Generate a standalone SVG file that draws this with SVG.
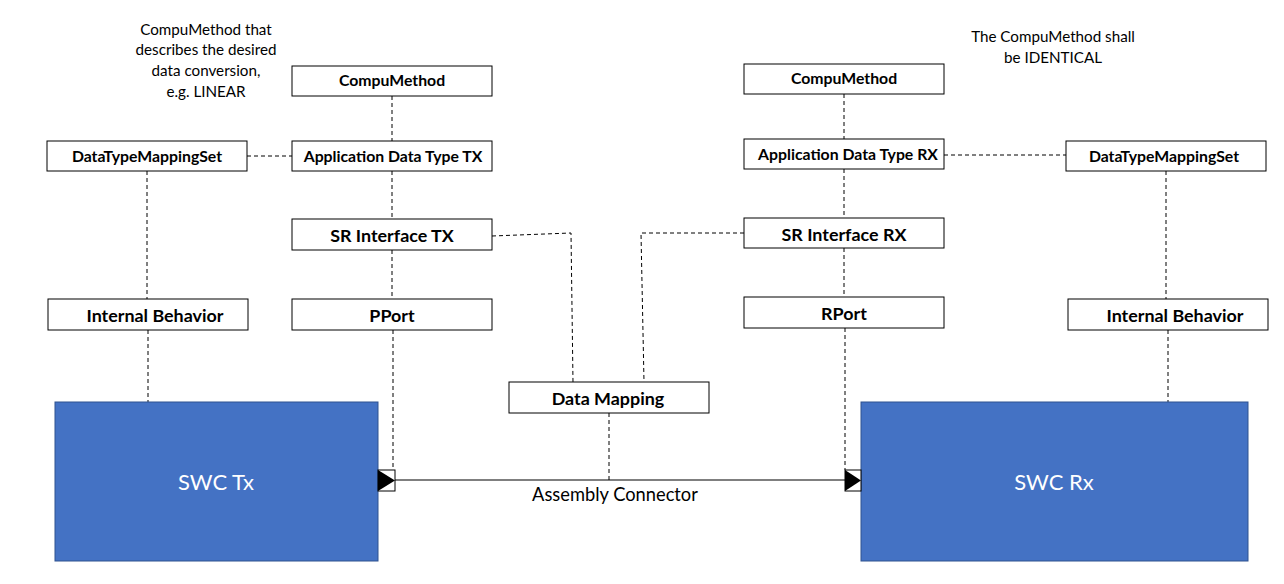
<svg xmlns="http://www.w3.org/2000/svg" width="1284" height="584" viewBox="0 0 1284 584">
<style>
.box{fill:#fff;stroke:#000;stroke-width:1}
.t{font-family:Lato,"Open Sans","Liberation Sans",sans-serif;font-weight:bold;text-anchor:middle;fill:#000}
.s{font-size:15.8px}
.l{font-size:17.9px}
.n{font-family:Lato,"Open Sans","Liberation Sans",sans-serif;font-size:15.2px;text-anchor:middle;fill:#000}
.swc{fill:#4472C4;stroke:#2F528F;stroke-width:1}
.w{font-family:Lato,"Open Sans","Liberation Sans",sans-serif;font-size:22px;text-anchor:middle;fill:#fff}
.d{fill:none;stroke:#000;stroke-width:1;stroke-dasharray:4 3}
</style>
<rect width="1284" height="584" fill="#fff"/>
<g id="connectors">
<line class="d" x1="392" y1="96" x2="392" y2="141"/>
<line class="d" x1="392" y1="171" x2="392" y2="219"/>
<line class="d" x1="392" y1="250" x2="392" y2="299"/>
<line class="d" x1="393" y1="330" x2="393" y2="470"/>
<line class="d" x1="247" y1="156" x2="292" y2="156"/>
<line class="d" x1="147" y1="171" x2="147" y2="299"/>
<line class="d" x1="148" y1="330" x2="148" y2="402"/>
<polyline class="d" points="492,236 571,233 573,382"/>
<polyline class="d" points="744,233 641,233 644,382"/>
<line class="d" x1="609" y1="413" x2="609" y2="480"/>
<line class="d" x1="844" y1="94" x2="844" y2="139"/>
<line class="d" x1="844" y1="169" x2="844" y2="218"/>
<line class="d" x1="844" y1="248" x2="844" y2="297"/>
<line class="d" x1="845" y1="328" x2="845" y2="470"/>
<line class="d" x1="944" y1="155" x2="1066" y2="155"/>
<line class="d" x1="1166" y1="171" x2="1166" y2="299"/>
<line class="d" x1="1168" y1="330" x2="1168" y2="402"/>
<line x1="395" y1="480" x2="845" y2="480" stroke="#000" stroke-width="1.2"/>
<text class="n" x="615" y="501" style="font-size:18.3px">Assembly Connector</text>
</g>
<g id="note-tx">
<text class="n" x="206" y="35">CompuMethod that</text>
<text class="n" x="206" y="55">describes the desired</text>
<text class="n" x="206" y="76">data conversion,</text>
<text class="n" x="206" y="97">e.g. LINEAR</text>
</g>
<g id="note-rx">
<text class="n" x="1053" y="42">The CompuMethod shall</text>
<text class="n" x="1053" y="63">be IDENTICAL</text>
</g>
<g id="compu-tx"><rect class="box" x="292" y="66" width="200" height="30"/><text class="t s" x="392" y="86">CompuMethod</text></g>
<g id="adt-tx"><rect class="box" x="292" y="141" width="200" height="30"/><text class="t s" x="393" y="161.5">Application Data Type TX</text></g>
<g id="sri-tx"><rect class="box" x="292" y="219" width="200" height="31"/><text class="t l" x="392" y="241.5">SR Interface TX</text></g>
<g id="pport"><rect class="box" x="292" y="299" width="200" height="31"/><text class="t l" x="392" y="322">PPort</text></g>
<g id="dtms-tx"><rect class="box" x="47" y="141" width="200" height="30"/><text class="t s" x="147" y="161.5">DataTypeMappingSet</text></g>
<g id="ib-tx"><rect class="box" x="48" y="299" width="200" height="31"/><text class="t l" x="155" y="321.5">Internal Behavior</text></g>
<g id="swc-tx"><rect class="swc" x="55" y="402" width="323" height="159"/><text class="w" x="216" y="490">SWC Tx</text></g>
<g id="port-tx"><rect x="378" y="470" width="17" height="21" fill="#fff" stroke="#000"/><polygon points="378,470 395,480.5 378,491" fill="#000"/></g>
<g id="data-mapping"><rect class="box" x="509" y="382" width="200" height="31"/><text class="t l" x="608" y="404.5">Data Mapping</text></g>
<g id="compu-rx"><rect class="box" x="744" y="64" width="200" height="30"/><text class="t s" x="844" y="84">CompuMethod</text></g>
<g id="adt-rx"><rect class="box" x="744" y="139" width="200" height="30"/><text class="t s" x="848" y="159.5">Application Data Type RX</text></g>
<g id="sri-rx"><rect class="box" x="744" y="218" width="200" height="30"/><text class="t l" x="844" y="240.5">SR Interface RX</text></g>
<g id="rport"><rect class="box" x="744" y="297" width="200" height="31"/><text class="t l" x="844" y="320">RPort</text></g>
<g id="dtms-rx"><rect class="box" x="1066" y="141" width="200" height="30"/><text class="t s" x="1164" y="161.5">DataTypeMappingSet</text></g>
<g id="ib-rx"><rect class="box" x="1068" y="299" width="200" height="31"/><text class="t l" x="1175" y="321.5">Internal Behavior</text></g>
<g id="swc-rx"><rect class="swc" x="861" y="402" width="387" height="159"/><text class="w" x="1054" y="490">SWC Rx</text></g>
<g id="port-rx"><rect x="845" y="470" width="16" height="21" fill="#fff" stroke="#000"/><polygon points="845,470 861,480.5 845,491" fill="#000"/></g>
</svg>
